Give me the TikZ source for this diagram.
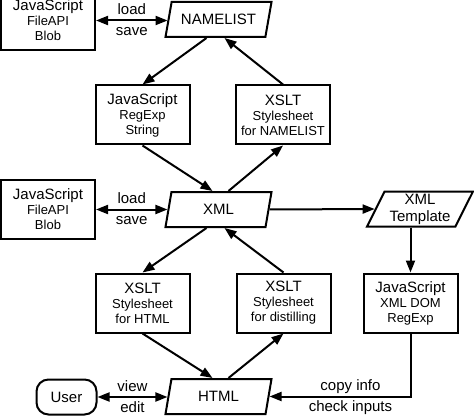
\documentclass[tikz,border=0pt]{standalone}
\usepackage{fontspec}
\setmainfont{Liberation Sans}
\usetikzlibrary{shapes.geometric,arrows.meta,calc}
\tikzset{
  box/.style={draw, line width=2pt, minimum width=94pt, minimum height=59pt, align=center, inner sep=0pt, font=\fontsize{13}{15}\selectfont},
  para/.style={draw, line width=2pt, trapezium, trapezium left angle=60, trapezium right angle=120, trapezium stretches body, minimum width=106pt, minimum height=35pt, inner sep=0pt, align=center, font=\fontsize{15}{17}\selectfont},
  userbox/.style={draw, line width=2pt, rounded corners=12pt, minimum width=60pt, minimum height=35pt, inner sep=0pt, font=\fontsize{15}{17}\selectfont},
  arr/.style={line width=2pt, -{Triangle[length=12pt,width=9pt]}},
  dbl/.style={line width=2pt, {Triangle[length=12pt,width=9pt]}-{Triangle[length=12pt,width=9pt]}},
  lblA/.style={font=\fontsize{15}{17}\selectfont, anchor=base, yshift=6pt, inner sep=0pt},
  lblB/.style={font=\fontsize{15}{17}\selectfont, anchor=base, yshift=-15pt, inner sep=0pt},
}
\newcommand{\firstline}[1]{{\fontsize{15}{15}\selectfont #1}}
\begin{document}
\begin{tikzpicture}[x=1pt,y=-1pt]
\useasboundingbox (0,0) rectangle (474,417);
\node[box] (fa1) at (48,20.5) {\firstline{JavaScript}\\FileAPI\\Blob};
\node[para] (nl) at (218.5,19.5) {NAMELIST};
\node[box] (js1) at (142.5,115) {\firstline{JavaScript}\\RegExp\\String};
\node[box] (xs1) at (283,115) {\firstline{XSLT}\\Stylesheet\\for NAMELIST};
\node[box] (fa2) at (48,209.5) {\firstline{JavaScript}\\FileAPI\\Blob};
\node[para] (xml) at (218.5,209.5) {XML};
\node[para] (tmpl) at (420,209) {XML\\Template};
\node[box] (xs2) at (142.5,303) {\firstline{XSLT}\\Stylesheet\\for HTML};
\node[box] (xs3) at (283.5,303) {\firstline{XSLT}\\Stylesheet\\for distilling};
\node[box] (dom) at (410.5,303) {\firstline{JavaScript}\\XML DOM\\RegExp};
\node[userbox] (user) at (66.5,397) {User};
\node[para] (html) at (218.5,396.5) {HTML};

\draw[dbl] (fa1.east) -- (fa1.east -| nl.west) node[lblA,midway]{load} node[lblB,midway]{save};
\draw[arr] ($(nl.south)+(-12,0)$) -- (js1.north);
\draw[arr] (xs1.north) -- ($(nl.south)+(6,0)$);
\draw[arr] (js1.south) -- ($(xml.north)+(-6,0)$);
\draw[arr] ($(xml.north)+(10,0)$) -- (xs1.south);
\draw[dbl] (fa2.east) -- (fa2.east -| xml.west) node[lblA,midway]{load} node[lblB,midway]{save};
\draw[arr] (xml.east) -- (tmpl.west);
\draw[arr] ($(xml.south)+(-12,0)$) -- (xs2.north);
\draw[arr] (xs3.north) -- ($(xml.south)+(6,0)$);
\draw[arr] (xs2.south) -- ($(html.north)+(-6,0)$);
\draw[arr] ($(html.north)+(10,0)$) -- (xs3.south);
\draw[arr] (tmpl.south -| dom.north) -- (dom.north);
\draw[dbl] (user.east) -- (user.east -| html.west) node[lblA,midway]{view} node[lblB,midway]{edit};
\draw[arr] (dom.south) |- (html.east) node[lblA,pos=0.713]{copy info} node[lblB,pos=0.713]{check inputs};
\end{tikzpicture}
\end{document}
